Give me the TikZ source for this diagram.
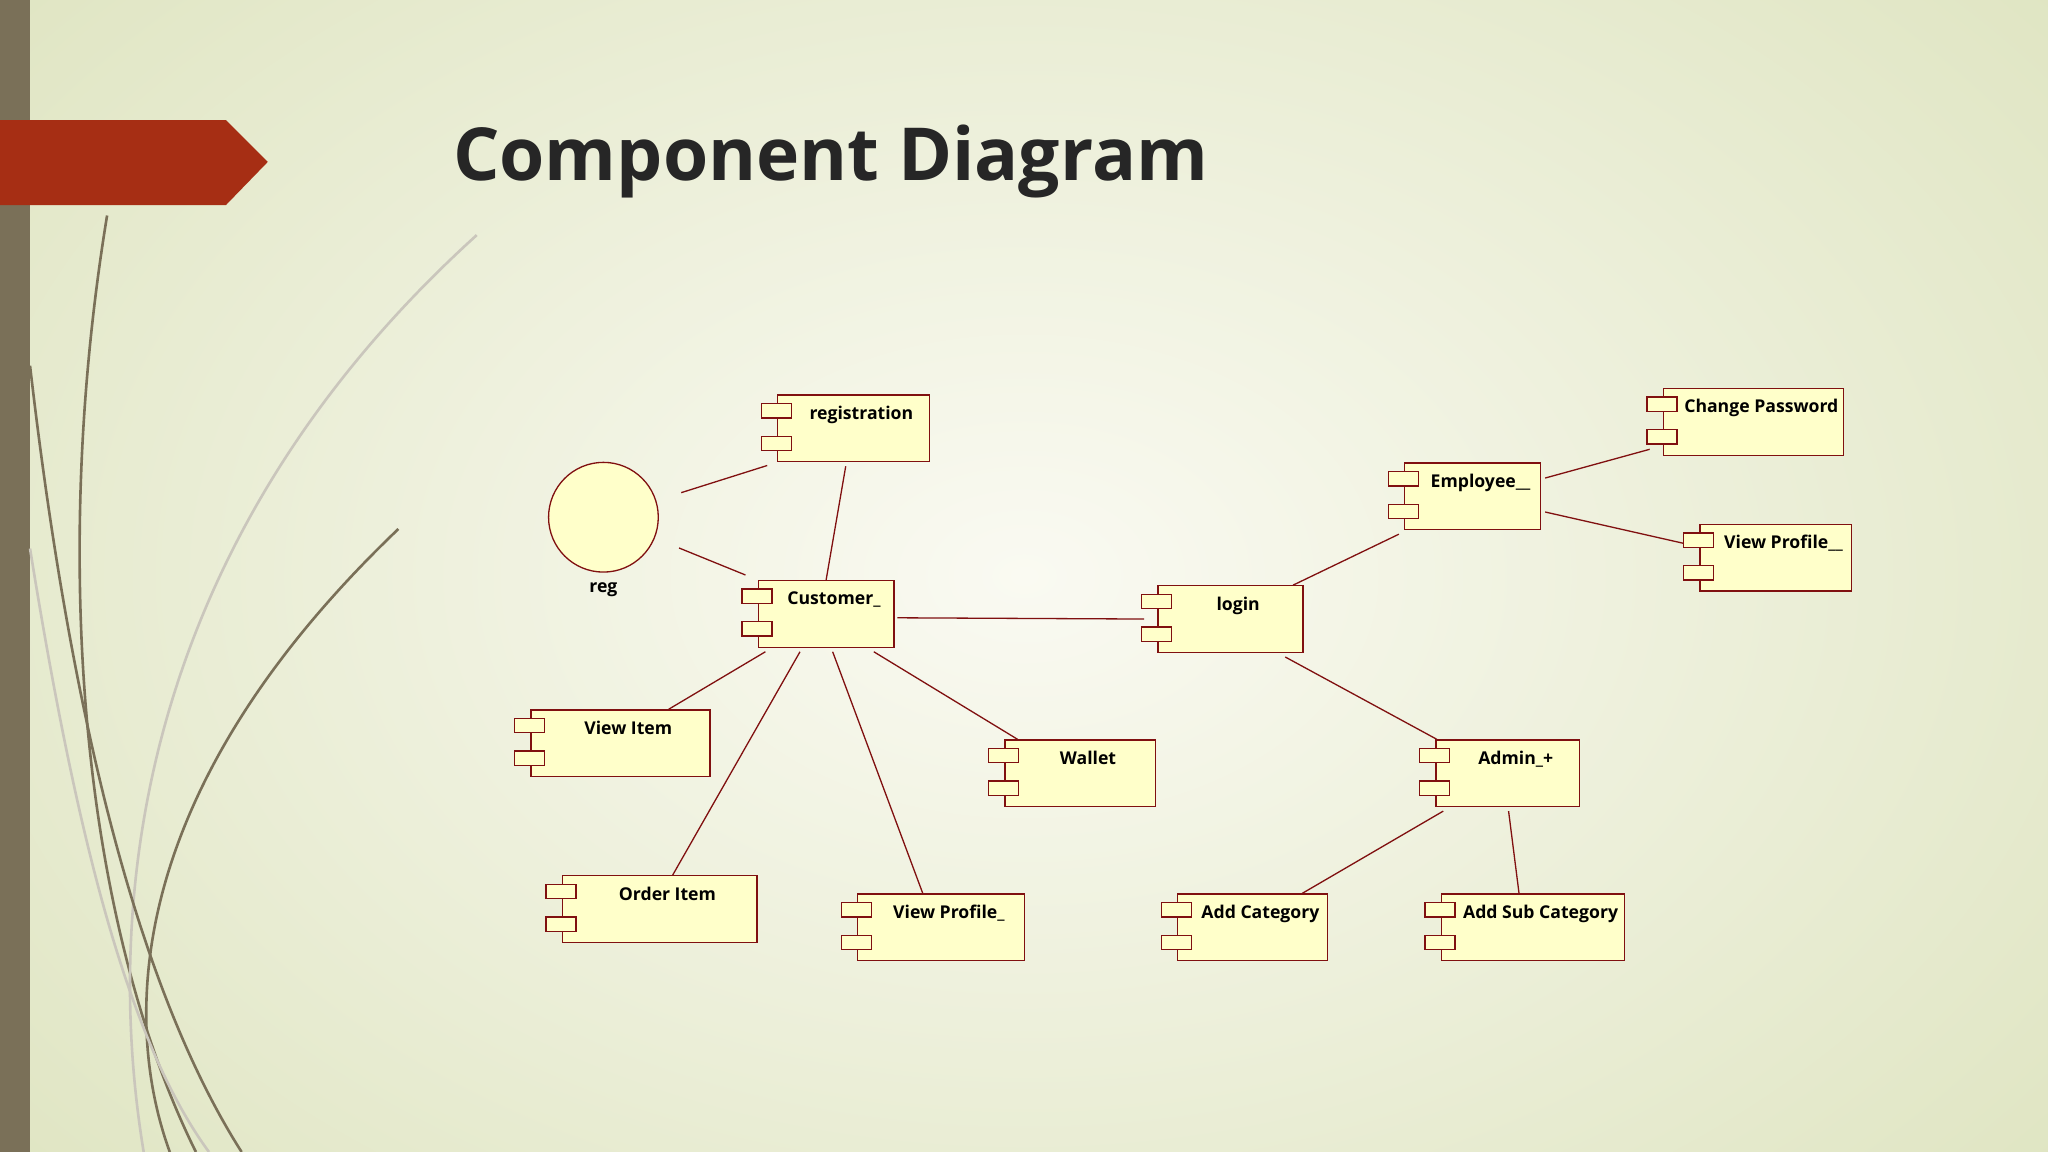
\documentclass[tikz,border=0pt]{standalone}
\usepackage{fontspec}
\setmainfont{Open Sans}
\usetikzlibrary{calc}

\definecolor{compfill}{RGB}{255,255,202}
\definecolor{compline}{RGB}{128,16,16}
\definecolor{barbrown}{RGB}{122,112,88}
\definecolor{bannerred}{RGB}{166,46,20}
\definecolor{bgpale}{RGB}{250,250,242}
\definecolor{bggreen}{RGB}{222,228,192}

\tikzset{
  comp/.style={draw=compline,fill=compfill,minimum height=51pt,anchor=north west,inner sep=0pt},
  port/.style={draw=compline,fill=compfill},
  link/.style={draw=compline,line width=1pt},
  swoosh/.style={line width=2pt,draw=barbrown}
}

% component box: name, x, y, width, label
\newcommand{\comp}[5]{%
  \node[comp,minimum width=#4pt,
        label={[anchor=north,yshift=-5pt,xshift=6pt,font=\bfseries\fontsize{13.5}{16}\selectfont]north:#5}]
    (#1) at (#2,#3) {};
  \draw[port] ($(#1.north west)+(-12,7)$) rectangle +(23,11);
  \draw[port] ($(#1.north west)+(-12,32)$) rectangle +(23,11);
}

\begin{document}
\begin{tikzpicture}[x=1pt,y=-1pt,line width=1pt]
  \useasboundingbox (0,0) rectangle (1568,882);
  \shade[inner color=bgpale,outer color=bggreen] (-300,-300) rectangle (1868,1182);
  \fill[barbrown] (0,0) rectangle (23,882);

  % swooshes
  \draw[swoosh] (82,165) .. controls (40,420) and (60,700) .. (150,882);
  \draw[swoosh] (305,405) .. controls (80,620) and (100,800) .. (130,882);
  \draw[swoosh,draw=barbrown!40] (365,180) .. controls (100,420) and (80,700) .. (110,882);
  \draw[swoosh,draw=barbrown!40] (23,420) .. controls (60,650) and (100,800) .. (160,882);
  \draw[swoosh] (23,280) .. controls (60,600) and (120,780) .. (185,882);

  \fill[bannerred] (0,92) -- (173,92) -- (205,124) -- (173,157) -- (0,157) -- cycle;
  \node[anchor=west,font=\bfseries\fontsize{56}{60}\selectfont,text=black!85] (title) at (343,124) {Component Diagram};

  \node[circle,draw=compline,fill=compfill,minimum size=84pt,inner sep=0pt,
        label={[font=\bfseries\fontsize{13.5}{16}\selectfont,yshift=-4pt]below:reg}] (reg) at (462,396) {};

  \comp{registration}{595}{302}{116}{registration}
  \comp{customer}{580}{444}{104}{Customer\_}
  \comp{viewitem}{406}{543}{137}{View Item}
  \comp{orderitem}{430}{670}{149}{Order Item}
  \comp{viewprofile}{656}{684}{128}{View Profile\_}
  \comp{wallet}{769}{566}{115}{Wallet}
  \comp{login}{886}{448}{111}{login}
  \comp{employee}{1075}{354}{104}{Employee\_\_}
  \comp{changepw}{1273}{297}{138}{Change Password}
  \comp{empprofile}{1301}{401}{116}{View Profile\_\_}
  \comp{admin}{1099}{566}{110}{Admin\_+}
  \comp{addcat}{901}{684}{115}{Add Category}
  \comp{addsubcat}{1103}{684}{140}{Add Sub Category}

  \draw[link,shorten <=20pt,shorten >=8pt] (reg) -- (registration.south west);
  \draw[link,shorten <=20pt,shorten >=10pt] (reg) -- (customer.north west);
  \draw[link] ($(registration.south)+(-6,3)$) -- (customer.north);
  \draw[link,shorten >=10pt] ($(customer.east)+(2,3)$) -- (login.west);
  \draw[link] ($(customer.south west)+(6,3)$) -- ($(viewitem.north)+(37,0)$);
  \draw[link] ($(customer.south)+(-20,3)$) -- ($(orderitem.north)+(10,0)$);
  \draw[link] ($(customer.south)+(5,3)$) -- ($(viewprofile.north)+(-14,0)$);
  \draw[link] ($(customer.south east)+(-16,3)$) -- ($(wallet.north west)+(10,0)$);
  \draw[link] ($(login.north east)+(-8,0)$) -- ($(employee.south west)+(-4,3)$);
  \draw[link] ($(login.south east)+(-14,3)$) -- ($(admin.north west)+(1,0)$);
  \draw[link] ($(employee.north east)+(3,12)$) -- ($(changepw.north west)+(-10,47)$);
  \draw[link] ($(employee.north east)+(3,38)$) -- ($(empprofile.north west)+(-12,15)$);
  \draw[link] ($(admin.south west)+(6,3)$) -- ($(addcat.north west)+(96,0)$);
  \draw[link] ($(admin.south east)+(-55,3)$) -- ($(addsubcat.north west)+(60,0)$);
\end{tikzpicture}
\end{document}
